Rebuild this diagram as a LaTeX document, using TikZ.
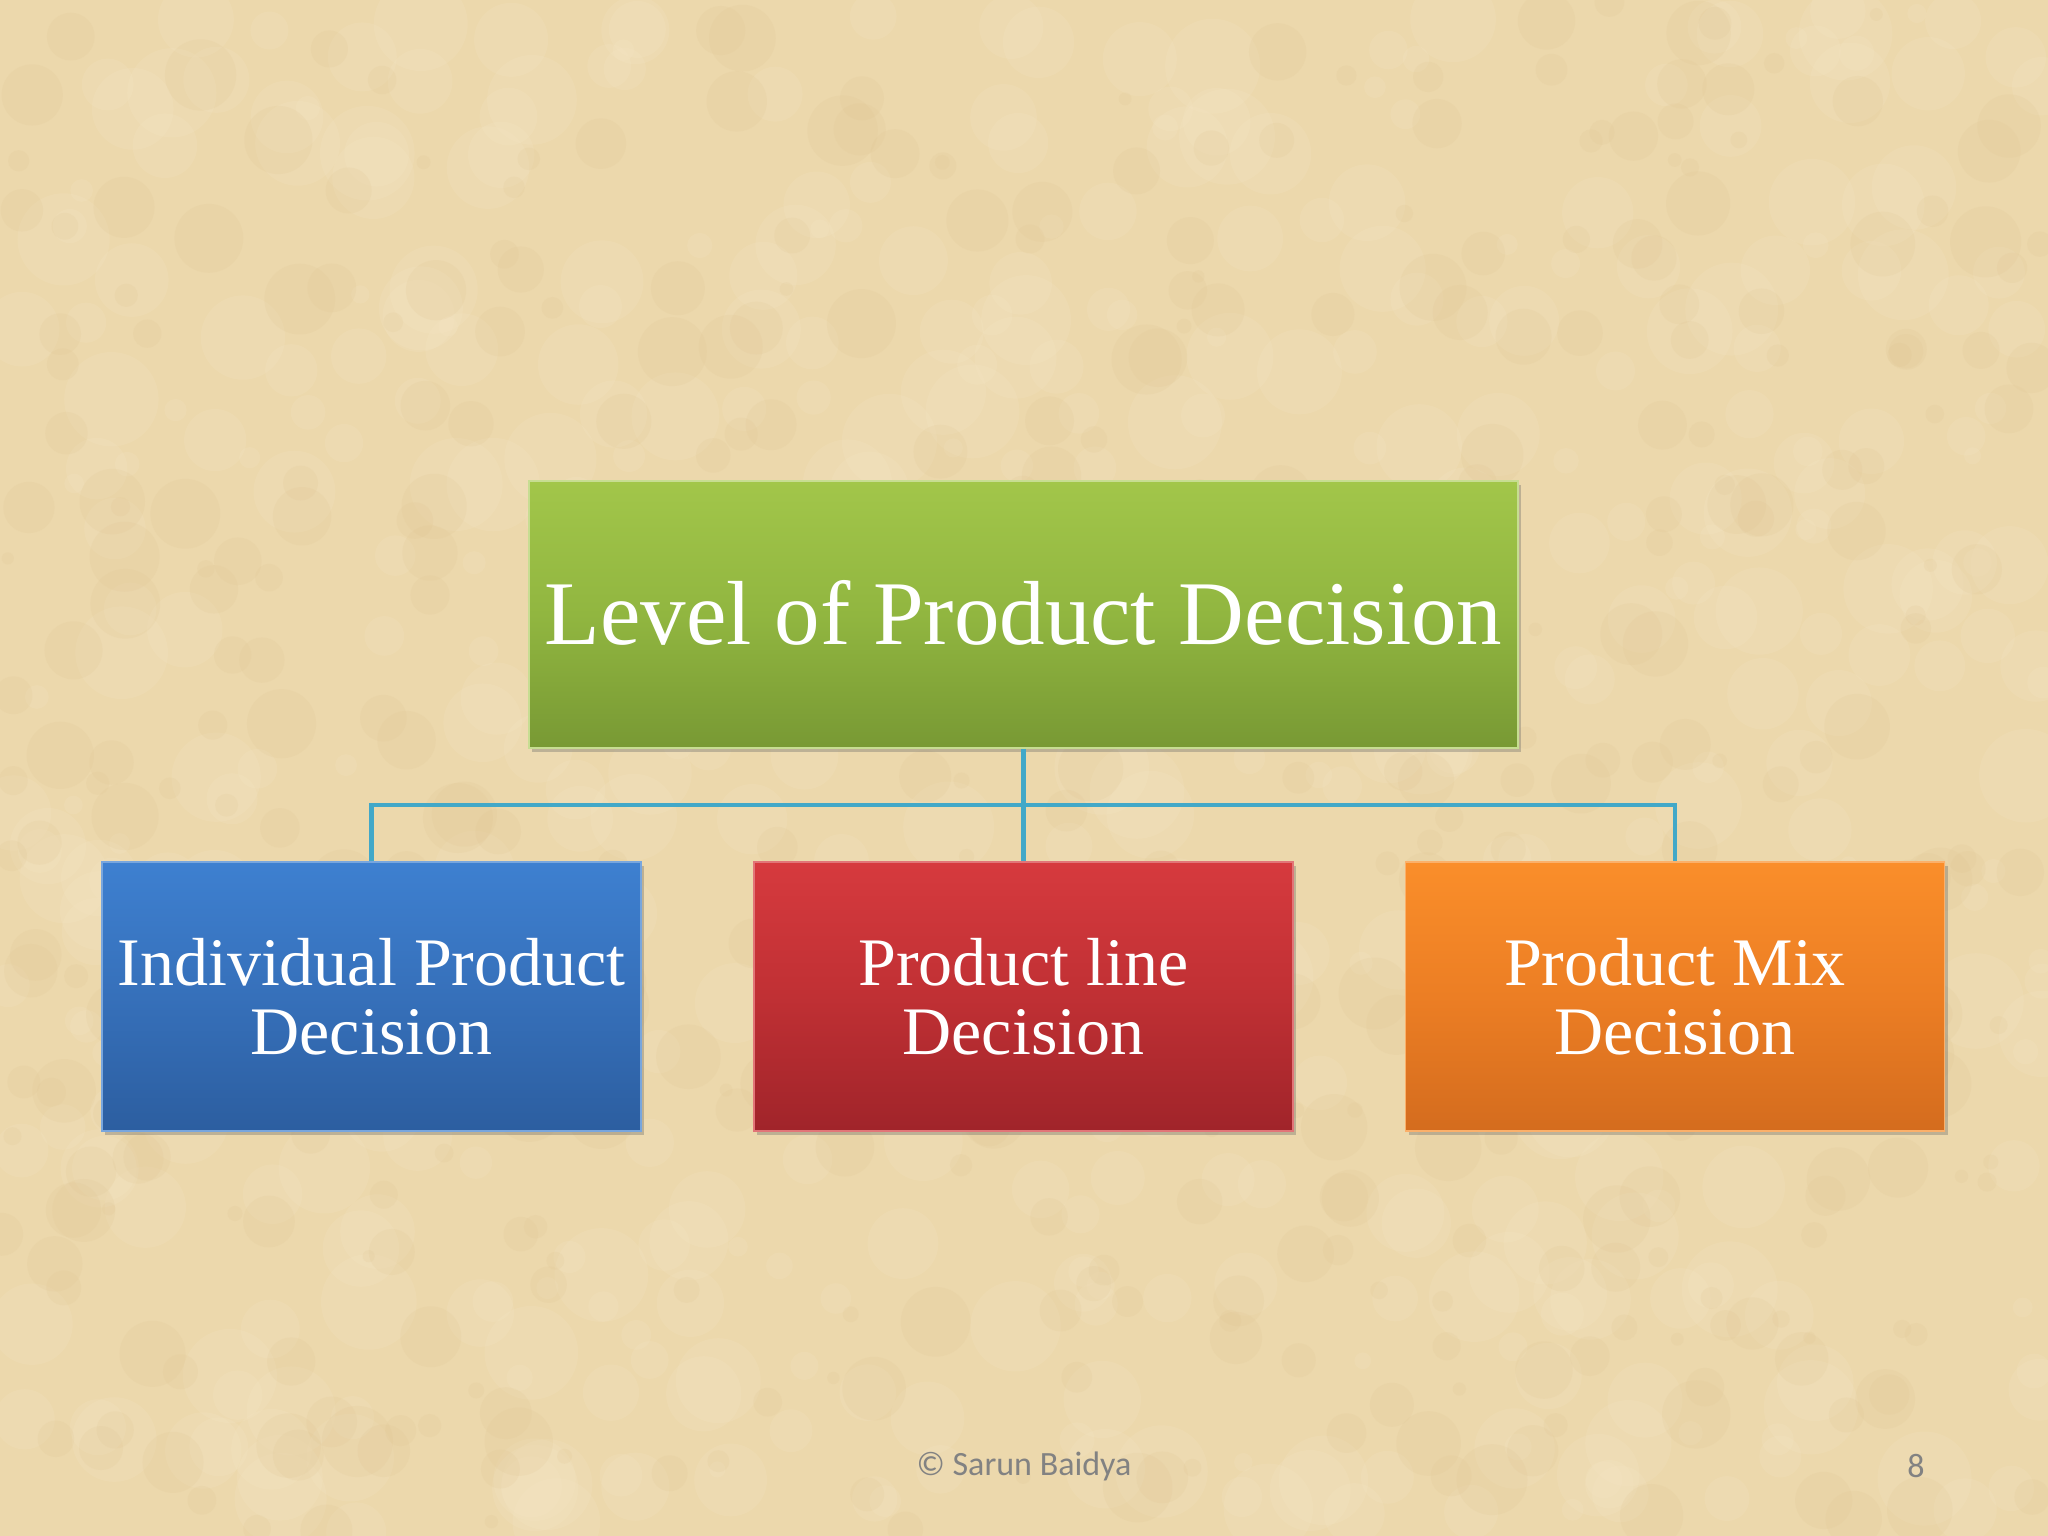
\documentclass[tikz,border=0pt]{standalone}
\usepackage{fontspec}
\setmainfont{Liberation Serif}
\newfontfamily\footfont{Carlito}
\usetikzlibrary{shadows,calc}
\definecolor{bg}{RGB}{236,216,172}
\definecolor{bglight}{RGB}{246,232,200}
\definecolor{bgdark}{RGB}{220,192,140}
\definecolor{conncol}{RGB}{66,168,200}
\definecolor{gtop}{RGB}{162,198,74}
\definecolor{gmid}{RGB}{145,182,64}
\definecolor{gbot}{RGB}{120,153,52}
\definecolor{btop}{RGB}{62,128,208}
\definecolor{bmid}{RGB}{54,112,186}
\definecolor{bbot}{RGB}{44,94,160}
\definecolor{rtop}{RGB}{214,58,62}
\definecolor{rmid}{RGB}{192,48,52}
\definecolor{rbot}{RGB}{160,36,42}
\definecolor{otop}{RGB}{250,142,42}
\definecolor{omid}{RGB}{236,126,36}
\definecolor{obot}{RGB}{212,108,30}
\definecolor{footgray}{RGB}{130,130,130}
\tikzset{
  boxbase/.style={rectangle, inner sep=0pt, text=white, align=center,
    drop shadow={shadow xshift=3pt, shadow yshift=-4pt, opacity=0.35, fill=black!60}},
  topbox/.style={boxbase, minimum width=989pt, minimum height=267pt,
    top color=gtop, bottom color=gbot, middle color=gmid, draw=gtop!60!white, line width=1.5pt,
    font=\fontsize{91}{91}\selectfont},
  childbox/.style={boxbase, minimum width=539pt, minimum height=269pt,
    font=\fontsize{68}{69}\selectfont},
  bluebox/.style={childbox, top color=btop, bottom color=bbot, middle color=bmid, draw=btop!70!white, line width=1.2pt},
  redbox/.style={childbox, top color=rtop, bottom color=rbot, middle color=rmid, draw=rtop!70!white, line width=1.2pt},
  orangebox/.style={childbox, top color=otop, bottom color=obot, middle color=omid, draw=otop!70!white, line width=1.2pt},
  conn/.style={draw=conncol, line width=4.5pt},
  foot/.style={text=footgray, font=\footfont\fontsize{34}{34}\selectfont, inner sep=0pt}
}
\begin{document}
\begin{tikzpicture}[x=1pt,y=-1pt]
\useasboundingbox (0,0) rectangle (2048,1536);
\fill[bg] (0,0) rectangle (2048,1536);
\pgfmathsetseed{12}
\foreach \i in {1,...,500}{
  \pgfmathsetmacro\xx{rnd*2048}
  \pgfmathsetmacro\yy{rnd*1536}
  \pgfmathsetmacro\rr{8+rnd*40}
  \fill[bglight, opacity=0.18] (\xx,\yy) circle (\rr);
}
\foreach \i in {1,...,450}{
  \pgfmathsetmacro\xx{rnd*2048}
  \pgfmathsetmacro\yy{rnd*1536}
  \pgfmathsetmacro\rr{6+rnd*30}
  \fill[bgdark, opacity=0.14] (\xx,\yy) circle (\rr);
}
\node[topbox] (top) at (1023.5,614.5) {\raisebox{4pt}{Level of Product Decision}};
\node[bluebox] (c1) at (371.5,996.5) {Individual Product\\Decision};
\node[redbox] (c2) at (1023.5,996.5) {Product line\\Decision};
\node[orangebox] (c3) at (1675,996.5) {Product Mix\\Decision};
\coordinate (j) at ($(top.south)!0.5!(c2.north)$);
\draw[conn] (top.south) -- (c2.north);
\draw[conn] (c1.north) |- (j) -| (c3.north);
\node[foot] (copy) at (1024,1466) {© Sarun Baidya};
\node[foot] (num) at (1916,1466) {8};
\end{tikzpicture}
\end{document}
